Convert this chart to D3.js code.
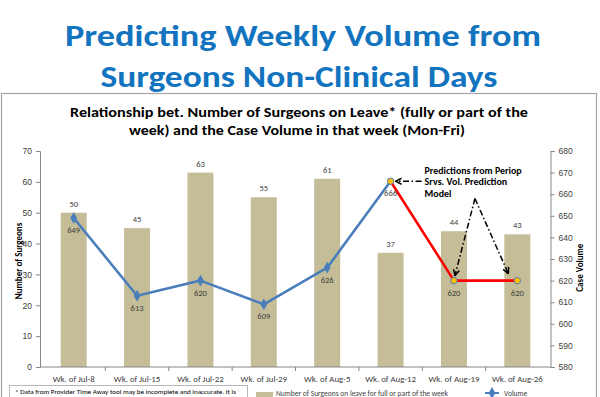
<!DOCTYPE html>
<html><head><meta charset="utf-8">
<script src="https://cdn.jsdelivr.net/npm/d3@7"></script>
<style>
html,body{margin:0;padding:0;background:#fff;overflow:hidden;}
svg{display:block;font-family:Carlito,Calibri,Lato,"Open Sans",sans-serif;}
</style></head>
<body>
<script>
// ---- data ----
const categories = ["Wk. of Jul-8","Wk. of Jul-15","Wk. of Jul-22","Wk. of Jul-29","Wk. of Aug-5","Wk. of Aug-12","Wk. of Aug-19","Wk. of Aug-26"];
const surgeonsOnLeave = [50,45,63,55,61,37,44,43];
const actualVolume = [649,613,620,609,626,666,null,null];
const predictedVolume = [null,null,null,null,null,666,620,620];
const leftTicks = [0,10,20,30,40,50,60,70];
const rightTicks = [580,590,600,610,620,630,640,650,660,670,680];
const titleLines = ["Predicting Weekly Volume from","Surgeons Non-Clinical Days"];
const chartTitleLines = ["Relationship bet. Number of Surgeons on Leave* (fully or part  of the","week) and the Case Volume in that week (Mon-Fri)"];
const annotationLines = ["Predictions from Periop","Srvs. Vol. Prediction","Model"];
const footnote = "* Data from Provider Time Away tool may be incomplete and inaccurate. It is";
const legendLabels = ["Number of Surgeons on leave for full or part of the week","Volume"];

const W = 600, H = 397;
const svg = d3.select("body").append("svg").attr("width",W).attr("height",H);

// main title
const tBlue = "#1273BE";
[[titleLines[0],46,303,476],[titleLines[1],87,299,397]].forEach(([t,y,cxp,w])=>{
  svg.append("text").attr("x",cxp).attr("y",y).attr("text-anchor","middle")
    .attr("font-weight","bold").attr("font-size",31).attr("fill",tBlue)
    .attr("textLength",w).attr("lengthAdjust","spacingAndGlyphs").text(t);
});

// chart frame
svg.append("rect").attr("x",1.5).attr("y",93.5).attr("width",595).attr("height",310)
  .attr("fill","#fff").attr("stroke","#a6a6a6").attr("stroke-width",1.2);

// chart title
[[chartTitleLines[0],117,299,458],[chartTitleLines[1],135,297,336]].forEach(([t,y,cxp,w])=>{
  svg.append("text").attr("x",cxp).attr("y",y).attr("text-anchor","middle")
    .attr("font-weight","bold").attr("font-size",14.5).attr("fill","#000")
    .attr("textLength",w).attr("lengthAdjust","spacingAndGlyphs").text(t);
});

// scales
const xb = d3.scaleBand().domain(categories).range([42,549]);
const yL = d3.scaleLinear().domain([0,70]).range([367,151]);
const yR = d3.scaleLinear().domain([580,680]).range([367,151]);
const cx = c => xb(c)+xb.bandwidth()/2;
const barW = xb.bandwidth()*0.41;

const axisCol = "#868686", lblCol = "#404040";

// bars
svg.append("g").selectAll("rect").data(surgeonsOnLeave).join("rect")
  .attr("x",(d,i)=>cx(categories[i])-barW/2).attr("width",barW)
  .attr("y",d=>yL(d)).attr("height",d=>yL(0)-yL(d)).attr("fill","#C4BD97");
svg.append("g").selectAll("text").data(surgeonsOnLeave).join("text")
  .attr("x",(d,i)=>cx(categories[i])).attr("y",d=>yL(d)-6).attr("text-anchor","middle")
  .attr("font-size",8.5).attr("fill",lblCol).text(d=>d);

// left axis
const gL = svg.append("g").attr("transform","translate(40,0)")
  .call(d3.axisLeft(yL).tickValues(leftTicks).tickSize(4).tickPadding(4));
gL.select(".domain").attr("stroke",axisCol);
gL.selectAll(".tick line").attr("stroke",axisCol);
gL.selectAll(".tick text").attr("font-size",8.5).attr("fill",lblCol).attr("font-family",null);

// right axis
const gR = svg.append("g").attr("transform","translate(550.5,0)")
  .call(d3.axisRight(yR).tickValues(rightTicks).tickSize(4).tickPadding(4));
gR.select(".domain").attr("stroke",axisCol);
gR.selectAll(".tick line").attr("stroke",axisCol);
gR.selectAll(".tick text").attr("font-size",8.5).attr("fill",lblCol).attr("font-family",null);

// x axis
const gX = svg.append("g").attr("transform","translate(0,367)");
gX.append("line").attr("x1",40).attr("x2",550.5).attr("stroke",axisCol);
gX.selectAll("line.tk").data(categories.slice(1)).join("line").attr("class","tk")
  .attr("x1",d=>xb(d)).attr("x2",d=>xb(d)).attr("y1",0).attr("y2",4).attr("stroke",axisCol);
gX.selectAll("text").data(categories).join("text")
  .attr("x",d=>cx(d)).attr("y",15).attr("text-anchor","middle")
  .attr("font-size",8.8).attr("fill",lblCol).text(d=>d);

// axis titles
svg.append("text").attr("transform",`translate(22,${yL(35)+2}) rotate(-90)`).attr("text-anchor","middle")
  .attr("font-weight","bold").attr("font-size",9).attr("fill","#000").text("Number of Surgeons");
svg.append("text").attr("transform",`translate(583,${yR(626)}) rotate(-90)`).attr("text-anchor","middle")
  .attr("font-weight","bold").attr("font-size",9).attr("fill","#000").text("Case Volume");

// lines
const actualPts = categories.map((c,i)=>({c,v:actualVolume[i]})).filter(d=>d.v!=null);
const predPts = categories.map((c,i)=>({c,v:predictedVolume[i]})).filter(d=>d.v!=null);
const line = d3.line().x(d=>cx(d.c)).y(d=>yR(d.v));
svg.append("path").datum(actualPts).attr("d",line).attr("fill","none")
  .attr("stroke","#4A7EBB").attr("stroke-width",2.6).attr("stroke-linejoin","round");
svg.append("path").datum(predPts).attr("d",line).attr("fill","none")
  .attr("stroke","#FF0000").attr("stroke-width",2.6).attr("stroke-linejoin","round");

// markers
const diamond = d3.symbol().type(d3.symbolDiamond).size(40);
svg.append("g").selectAll("path").data(actualPts.slice(0,-1)).join("path")
  .attr("d",diamond).attr("transform",d=>`translate(${cx(d.c)},${yR(d.v)})`).attr("fill","#4A7EBB");
svg.append("g").selectAll("circle").data(predPts).join("circle")
  .attr("cx",d=>cx(d.c)).attr("cy",d=>yR(d.v)).attr("r",3.2)
  .attr("fill","#FFC000").attr("stroke","#4A7EBB").attr("stroke-width",1);

// line labels
const volLabels = categories.map((c,i)=>({c,v:actualVolume[i]!=null?actualVolume[i]:predictedVolume[i]}));
svg.append("g").selectAll("text").data(volLabels).join("text")
  .attr("x",d=>cx(d.c)).attr("y",d=>yR(d.v)+15).attr("text-anchor","middle")
  .attr("font-size",8.5).attr("fill",lblCol).text(d=>d.v);

// annotation
const defs = svg.append("defs");
defs.append("marker").attr("id","arr").attr("viewBox","0 0 10 10").attr("refX",9).attr("refY",5)
  .attr("markerWidth",5).attr("markerHeight",5).attr("orient","auto-start-reverse")
  .append("path").attr("d","M1,1 L9,5 L1,9").attr("fill","none").attr("stroke","#000").attr("stroke-width",2);
const ax = cx(categories[5]);
annotationLines.forEach((t,i)=>{
  svg.append("text").attr("x",ax+34).attr("y",yR(669.5)+i*11.8).attr("font-weight","bold")
    .attr("font-size",10).attr("fill","#000")
    .attr("textLength", i===0 ? 97 : null).attr("lengthAdjust","spacingAndGlyphs").text(t);
});
const dash = "6,2.5,1.5,2.5";
svg.append("line").attr("x1",ax+31).attr("y1",yR(666)).attr("x2",ax+5).attr("y2",yR(666))
  .attr("stroke","#000").attr("stroke-width",1.5).attr("stroke-dasharray",dash).attr("marker-end","url(#arr)");
const apx = cx(categories[6])+21, apy = yR(658);
svg.append("line").attr("x1",apx).attr("y1",apy).attr("x2",cx(categories[6])+1).attr("y2",yR(620)-5)
  .attr("stroke","#000").attr("stroke-width",1.5).attr("stroke-dasharray",dash).attr("marker-end","url(#arr)");
svg.append("line").attr("x1",apx).attr("y1",apy).attr("x2",cx(categories[7])-9).attr("y2",yR(620)-7)
  .attr("stroke","#000").attr("stroke-width",1.5).attr("stroke-dasharray",dash).attr("marker-end","url(#arr)");

// footnote box
svg.append("rect").attr("x",9.5).attr("y",385.5).attr("width",238).attr("height",20)
  .attr("fill","#fff").attr("stroke","#a6a6a6").attr("stroke-width",0.8);
svg.append("text").attr("x",15).attr("y",394).attr("font-size",6.5).attr("fill","#000")
  .attr("textLength",221).attr("lengthAdjust","spacingAndGlyphs").text(footnote);

// legend (bottom)
svg.append("rect").attr("x",256).attr("y",392).attr("width",17).attr("height",8).attr("fill","#C4BD97");
svg.append("text").attr("x",276).attr("y",396).attr("font-size",7.5).attr("fill",lblCol).text(legendLabels[0]);
svg.append("line").attr("x1",485).attr("x2",499).attr("y1",393).attr("y2",393).attr("stroke","#4A7EBB").attr("stroke-width",2);
svg.append("path").attr("d",diamond).attr("transform","translate(492,393)").attr("fill","#4A7EBB");
svg.append("text").attr("x",504).attr("y",396).attr("font-size",7.5).attr("fill",lblCol).text(legendLabels[1]);
</script>
</body></html>
